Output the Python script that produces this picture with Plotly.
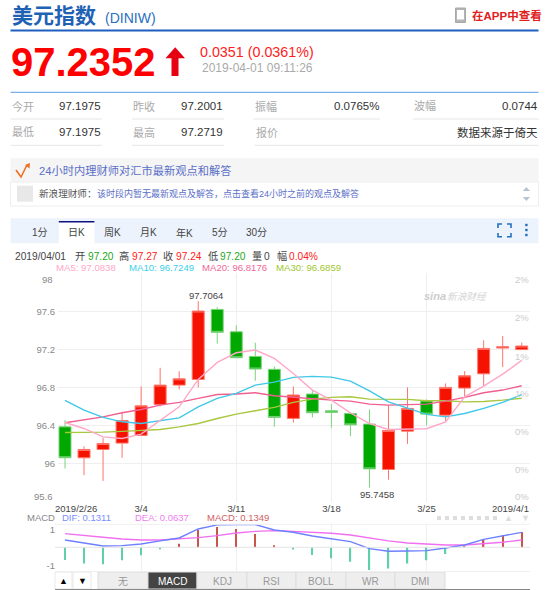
import plotly.graph_objects as go

# Daily candles for the US dollar index, 2019-02-26 to 2019-04-01
opens = [96.385, 96.06, 96.147, 96.214, 96.295, 96.62, 96.824, 96.884, 97.62, 97.385, 97.126, 96.99, 96.474,
         96.73, 96.554, 96.526, 96.414, 95.937, 96.34, 96.656, 96.508, 96.793, 96.943, 97.214, 97.1975]
closes = [96.06, 96.147, 96.21, 96.452, 96.606, 96.824, 96.89, 97.603, 97.379, 97.112, 96.993, 96.484, 96.72,
          96.533, 96.537, 96.406, 95.943, 96.347, 96.579, 96.519, 96.8, 96.922, 97.21, 97.227, 97.2352]
highs = [96.456, 96.18, 96.27, 96.543, 96.81, 97.006, 96.97, 97.7064, 97.645, 97.452, 97.27, 97.02, 96.81,
         96.77, 96.624, 96.53, 96.568, 96.614, 96.8, 96.674, 96.842, 96.971, 97.295, 97.34, 97.2719]
lows = [95.947, 95.877, 95.817, 96.06, 96.29, 96.6, 96.78, 96.8, 97.26, 97.11, 96.87, 96.385, 96.43,
        96.484, 96.375, 96.287, 95.7458, 95.83, 96.206, 96.4, 96.445, 96.695, 96.814, 97.014, 97.1975]

ma5 = [96.431, 96.368, 96.28, 96.263, 96.308, 96.456, 96.596, 96.884, 97.063, 97.164, 97.193, 97.105, 96.947,
       96.772, 96.666, 96.533, 96.42, 96.358, 96.361, 96.365, 96.438, 96.70, 96.814, 96.94, 97.0838]
ma10 = [96.663, 96.561, 96.484, 96.438, 96.421, 96.448, 96.48, 96.596, 96.684, 96.737, 96.824, 96.856, 96.905,
        96.916, 96.908, 96.866, 96.764, 96.648, 96.579, 96.516, 96.49, 96.526, 96.579, 96.642, 96.7249]
ma20 = [96.428, 96.456, 96.49, 96.533, 96.568, 96.614, 96.642, 96.684, 96.726, 96.73, 96.744, 96.712, 96.695,
        96.684, 96.666, 96.656, 96.624, 96.614, 96.617, 96.624, 96.656, 96.695, 96.744, 96.772, 96.8176]
ma30 = [96.326, 96.326, 96.33, 96.337, 96.347, 96.358, 96.385, 96.42, 96.473, 96.519, 96.554, 96.59, 96.642,
        96.677, 96.695, 96.701, 96.677, 96.677, 96.674, 96.659, 96.659, 96.648, 96.652, 96.666, 96.6859]

macd_hist = [-0.111, -0.143, -0.149, -0.114, -0.07, -0.015, 0.032, 0.152, 0.178, 0.161, 0.117, 0.01, -0.02,
             -0.067, -0.096, -0.126, -0.2, -0.187, -0.143, -0.114, -0.058, 0.003, 0.07, 0.108, 0.1349]
dif = [0.064, 0.035, 0.012, 0.015, 0.029, 0.056, 0.082, 0.161, 0.197, 0.2, 0.199, 0.152, 0.132,
       0.099, 0.076, 0.05, -0.012, -0.035, -0.032, -0.029, -0.006, 0.02, 0.07, 0.102, 0.1311]
dea = [0.12, 0.102, 0.088, 0.073, 0.064, 0.064, 0.073, 0.085, 0.102, 0.126, 0.14, 0.146, 0.14,
       0.132, 0.123, 0.108, 0.079, 0.056, 0.038, 0.026, 0.02, 0.02, 0.032, 0.044, 0.0637]

day_index = list(range(25))
date_ticks = [4, 9, 14, 19]
date_labels = ["3/4", "3/11", "3/18", "3/25"]
price_ticks = [98, 97.6, 97.2, 96.8, 96.4, 96, 95.6]
price_labels = ["", "97.6", "97.2", "96.8", "96.4", "96", ""]
percent_labels = ["2%", "2%", "1%", "1%", "0%", "0%", "0%"]

W, H = 550, 590
SANS = "Liberation Sans, Noto Sans CJK SC"
RED, GREEN = "#ff2020", "#1aa81a"
GRID = "#efefef"
AXIS_SIZE = 9.5


def fx(x):
    return x / W


def fy(y):
    return 1 - y / H


annotations = []
shapes = []


def text(x, y, s, size=11, color="#444", anchor="left", family=SANS):
    annotations.append(dict(x=fx(x), y=fy(y), xref="paper", yref="paper", text=s, showarrow=False,
                            xanchor=anchor, yanchor="middle", borderpad=0,
                            font=dict(size=size, color=color, family=family)))


def line(x0, y0, x1, y1, color, width=1, dash="solid", layer="above"):
    shapes.append(dict(type="line", xref="paper", yref="paper", x0=fx(x0), y0=fy(y0), x1=fx(x1), y1=fy(y1),
                       line=dict(color=color, width=width, dash=dash), layer=layer))


def rect(x0, y0, x1, y1, fill, border=None, layer="below"):
    shapes.append(dict(type="rect", xref="paper", yref="paper", x0=fx(x0), y0=fy(y0), x1=fx(x1), y1=fy(y1),
                       fillcolor=fill, line=dict(color=border or fill, width=1 if border else 0), layer=layer))


def poly(points, fill=None, stroke=None, width=1, close=True):
    d = "M" + " L".join(f"{fx(a):.5f},{fy(b):.5f}" for a, b in points) + (" Z" if close else "")
    shapes.append(dict(type="path", xref="paper", yref="paper", path=d, fillcolor=fill or "rgba(0,0,0,0)",
                       line=dict(color=stroke or "rgba(0,0,0,0)", width=width), layer="above"))


# Quote header
text(10.5, 15, "<b>美元指数</b>", 21, "#1f62b4")
text(104, 17.7, "(DINIW)", 14, "#2a70c0")
line(10.5, 30.5, 538.5, 30.5, "#1f5fc0", 2)
rect(455.5, 8, 465.5, 22.5, "#b5b5b5", "#a8a8a8", layer="above")
rect(457, 10, 464, 19.5, "#ffffff", layer="above")
text(471, 15.7, "<b>在APP中查看</b>", 11.5, "#e0201c")

text(10, 61.7, "<b>97.2352</b>", 40, "#ff0000")
poly([(175.2, 47.3), (185, 58.3), (178.5, 58.3), (178.5, 76), (171.5, 76), (171.5, 58.3), (165.5, 58.3)],
     fill="#e60012")
text(199, 51.7, "0.0351 (0.0361%)", 14.3, "#ff2020")
text(200.5, 68.3, "2019-04-01 09:11:26", 12, "#aaaaaa")
line(10.5, 92.3, 538.5, 92.3, "#7ab0e8", 1.2)

for y, cells in [(106, [("今开", 10.5, "97.1975", 102), ("昨收", 132, "97.2001", 224),
                        ("振幅", 253.5, "0.0765%", 380), ("波幅", 412.7, "0.0744", 538.7)]),
                 (132.3, [("最低", 10.5, "97.1975", 102), ("最高", 132, "97.2719", 224),
                          ("报价", 254.5, "数据来源于倚天", 538.7)])]:
    for name, lx, val, rx in cells:
        text(lx, y, name, 11, "#aaaaaa")
        text(rx, y, val, 11.5, "#333333", "right")
        line(lx, y + 13, rx, y + 13, "#e6e6e6")

# Adviser strip
rect(10.5, 158.3, 538.5, 181.7, "#f5f5f5")
poly([(16, 170), (21, 177), (27, 165)], stroke="#f07020", width=1.6, close=False)
poly([(25, 165), (30, 163), (29.5, 168.5)], fill="#f07020")
text(38, 170, "24小时内理财师对汇市最新观点和解答", 11.25, "#5a6fc8")
rect(10.5, 182, 538.5, 206, "#ffffff", "#eeeeee")
rect(17, 185.7, 33, 201.7, "#e8e8e8")
text(38, 194, "新浪理财师：", 9.6, "#555555")
text(96, 194, "该时段内暂无最新观点及解答，点击查看24小时之前的观点及解答", 9, "#5a6fc8")
poly([(526.4, 187), (530, 191), (522.8, 191)], fill="#b4c4d4")
poly([(526.4, 201), (530, 197), (522.8, 197)], fill="#b4c4d4")

# Period tabs
rect(10.5, 218.3, 538.5, 243.3, "#edf3fc")
rect(58.8, 221.7, 94.4, 243.5, "#ffffff")
line(58.8, 221.7, 94.4, 221.7, "#101080", 1.5)
for cx, label in [(39.8, "1分"), (76.4, "日K"), (112, "周K"), (148, "月K"), (184.5, "年K"), (220, "5分"), (256, "30分")]:
    text(cx, 232.7, label, 10, "#444444", "center")
for a, b, c, d, e, f in [(498, 228, 498, 224, 502, 224), (507, 224, 511, 224, 511, 228),
                         (511, 233, 511, 236.7, 507, 236.7), (502, 236.7, 498, 236.7, 498, 233)]:
    poly([(a, b), (c, d), (e, f)], stroke="#2070c0", width=1.6, close=False)
for y in (225, 230, 235):
    rect(525.2, y - 1.2, 527.6, y + 1.2, "#2070c0", layer="above")

# Readout rows above the price panel
for x, s, c in [(14, "2019/04/01", "#444444"), (74, "开", "#444444"), (87, "97.20", GREEN), (118, "高", "#444444"),
                (131, "97.27", RED), (162, "收", "#444444"), (175, "97.24", RED), (206.7, "低", "#444444"),
                (219, "97.20", GREEN), (250.7, "量", "#444444"), (263.4, "0", "#444444"),
                (275.7, "幅", "#444444"), (288, "0.04%", RED)]:
    text(x, 256, s, 10.2, c)
for x, s, c in [(54.6, "MA5: 97.0838", "#ffa8c8"), (127.5, "MA10: 96.7249", "#40d0e8"),
                (201.4, "MA20: 96.8176", "#f06898"), (275, "MA30: 96.6859", "#a0c830")]:
    text(x, 267.3, s, 9.6, c)

# End labels that sit inside the price axis range
text(54, 279, "98", AXIS_SIZE, "#888888", "right")
text(54, 496, "95.6", AXIS_SIZE, "#888888", "right")
for y, label in zip([279, 317, 356, 393, 431, 469, 496], percent_labels):
    text(530, y, label, AXIS_SIZE, "#cccccc", "right")
text(75.6, 508, "2019/2/26", AXIS_SIZE, "#444444", "center")
text(530, 508, "2019/4/1", AXIS_SIZE, "#444444", "right")
text(423, 296, "<b><i>sina</i></b>", 11, "#cccccc")
text(445.6, 296, "<i>新浪财经</i>", 9.7, "#d4d4d4")

annotations.append(dict(x=7, y=highs[7], xref="x", yref="y", text="97.7064", showarrow=False, yanchor="middle",
                        yshift=6, xshift=8, borderpad=0, font=dict(size=AXIS_SIZE, color="#444444", family=SANS)))
annotations.append(dict(x=16, y=lows[16], xref="x", yref="y", text="95.7458", showarrow=False, yanchor="middle",
                        yshift=-7, xshift=8, borderpad=0, font=dict(size=AXIS_SIZE, color="#444444", family=SANS)))

# MACD readout
text(26, 517.5, "MACD", AXIS_SIZE, "#888888")
text(61, 517.5, "DIF: 0.1311", AXIS_SIZE, "#7a8cff")
text(134, 517.5, "DEA: 0.0637", AXIS_SIZE, "#f080f0")
text(206, 517.5, "MACD: 0.1349", AXIS_SIZE, "#d06060")
line(437, 518, 498, 518, "#dddddd", 4, "dot")
text(508, 518, "▲", 9, "#dddddd", "center")
text(525, 518, "▼", 9, "#dddddd", "center")
line(55, 524.3, 530, 524.3, GRID)
line(55, 547.3, 530, 547.3, "#e4e4e4")
line(55, 571.5, 530, 571.5, GRID)

# Indicator selector
rect(55, 572, 72, 589, "#ffffff", "#e8e8e8")
rect(73, 572, 91, 589, "#ffffff", "#e8e8e8")
text(63, 581, "▲", 9, "#000000", "center")
text(82, 581, "▼", 9, "#000000", "center")
tab_edges = [98, 148, 197, 247, 296, 346, 395, 445]
tab_names = ["无", "MACD", "KDJ", "RSI", "BOLL", "WR", "DMI"]
for i, name in enumerate(tab_names):
    active = name == "MACD"
    rect(tab_edges[i], 572, tab_edges[i + 1], 589, "#444444" if active else "#eeeeee", "#dddddd")
    text((tab_edges[i] + tab_edges[i + 1]) / 2, 581, name, 10, "#ffffff" if active else "#999999", "center")
line(55, 589.5, 530, 589.5, "#888888", 1)

PLOT_LEFT, PLOT_RIGHT, STEP, FIRST = 58, 530, 19.03, 65
x_range = [(PLOT_LEFT - FIRST) / STEP, (PLOT_RIGHT - FIRST) / STEP]

fig = go.Figure()
fig.add_trace(go.Candlestick(
    x=day_index, open=opens, high=highs, low=lows, close=closes, whiskerwidth=0, hoverinfo="skip",
    increasing=dict(fillcolor="#f51200", line=dict(color="#ff7468", width=1)),
    decreasing=dict(fillcolor="#00a800", line=dict(color="#7ad47a", width=1)),
    xaxis="x", yaxis="y"))
for series, colour in [(ma30, "#a8c840"), (ma20, "#f06090"), (ma10, "#40c8e8"), (ma5, "#ffa8c8")]:
    fig.add_trace(go.Scatter(x=day_index, y=series, mode="lines", hoverinfo="skip",
                             line=dict(color=colour, width=1.4), xaxis="x", yaxis="y"))
fig.add_trace(go.Bar(x=day_index, y=macd_hist, width=0.07, hoverinfo="skip",
                     marker=dict(color=["#c8554a" if v > 0 else "#60d0a8" for v in macd_hist], line=dict(width=0)),
                     xaxis="x2", yaxis="y2"))
fig.add_trace(go.Scatter(x=day_index, y=dea, mode="lines", line=dict(color="#f070f0", width=1.4),
                         hoverinfo="skip", xaxis="x2", yaxis="y2"))
fig.add_trace(go.Scatter(x=day_index, y=dif, mode="lines", line=dict(color="#6e80ff", width=1.4),
                         hoverinfo="skip", xaxis="x2", yaxis="y2"))

fig.update_layout(
    width=W, height=H, margin=dict(l=0, r=0, t=0, b=0, pad=0), autosize=False, showlegend=False,
    paper_bgcolor="#ffffff", plot_bgcolor="rgba(0,0,0,0)", boxgap=0.37, boxgroupgap=0, hovermode=False,
    font=dict(family=SANS),
    xaxis=dict(domain=[fx(PLOT_LEFT), fx(PLOT_RIGHT)], range=x_range, rangeslider=dict(visible=False),
               tickmode="array", tickvals=date_ticks, ticktext=date_labels, showgrid=True, gridcolor=GRID,
               ticks="", zeroline=False, showline=False, anchor="y",
               tickfont=dict(size=AXIS_SIZE, color="#444444")),
    yaxis=dict(domain=[fy(501.5), fy(273.3)], range=[95.6, 98], tickmode="array", tickvals=price_ticks,
               ticktext=price_labels, showgrid=True, gridcolor=GRID, ticks="", zeroline=False, showline=False,
               anchor="x", ticklabelstandoff=2, tickfont=dict(size=AXIS_SIZE, color="#888888")),
    xaxis2=dict(domain=[fx(PLOT_LEFT), fx(PLOT_RIGHT)], range=x_range, tickmode="array", tickvals=date_ticks,
                showticklabels=False, showgrid=True, gridcolor=GRID, ticks="", zeroline=False, anchor="y2"),
    yaxis2=dict(domain=[fy(571), fy(524.3)], range=[-0.208, 0.2018], tickmode="array", tickvals=[0.152, -0.164],
                ticktext=["1", "-1"], showgrid=False, ticks="", zeroline=False, anchor="x2",
                ticklabelstandoff=2, tickfont=dict(size=AXIS_SIZE, color="#888888")),
    annotations=annotations, shapes=shapes,
)
fig.write_html("out.html", config=dict(displayModeBar=False))
